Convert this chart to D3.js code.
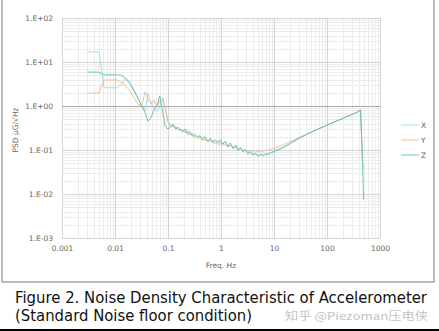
<!DOCTYPE html>
<html>
<head>
<meta charset="utf-8">
<script src="https://cdn.jsdelivr.net/npm/d3@7"></script>
<style>
  html, body { margin: 0; padding: 0; background: #fff; }
  svg { display: block; }
</style>
</head>
<body>
<svg id="chart" width="439" height="331"></svg>
<script>
// Frequency bins (Hz), shared by the three axes
const freqs = [
  0.003, 0.005, 0.0062, 0.008, 0.011, 0.013, 0.0155, 0.019, 0.023, 0.027,
  0.032, 0.037, 0.042, 0.048, 0.054, 0.062, 0.07, 0.08, 0.088, 0.1,
  0.112, 0.125, 0.14, 0.155, 0.17, 0.19, 0.21, 0.235, 0.26, 0.29,
  0.32, 0.36, 0.4, 0.45, 0.5, 0.56, 0.63, 0.7, 0.78, 0.87,
  0.97, 1.08, 1.2, 1.35, 1.5, 1.7, 1.9, 2.1, 2.35, 2.6, 2.9,
  3.2, 3.6, 4.0, 4.5, 5.0, 5.6, 6.3, 7.0, 7.8, 8.7, 9.7,
  10.8, 12, 13.5, 15, 17, 19, 21, 24, 27, 30,
  34, 38, 43, 48, 54, 60, 68, 76, 85, 95,
  107, 120, 135, 150, 170, 190, 215, 240, 270, 300, 340, 380, 430, 470, 490
];

// Noise density, µG/√Hz
const psdX = [
  17, 17, 2.6, 2.6, 2.6, 3.0, 4.2, 3.6, 2.3, 1.5,
  1.05, 0.8, 1.9, 1.2, 0.85, 0.75, 0.95, 1.4, 0.9, 0.45,
  0.33, 0.37, 0.31, 0.29, 0.3, 0.26, 0.25, 0.28, 0.22, 0.24,
  0.2, 0.19, 0.21, 0.17, 0.18, 0.16, 0.17, 0.16, 0.14, 0.16,
  0.145, 0.14, 0.15, 0.125, 0.13, 0.118, 0.12, 0.104, 0.112, 0.098, 0.1,
  0.088, 0.094, 0.082, 0.084, 0.077, 0.082, 0.079, 0.083, 0.084, 0.088, 0.094,
  0.1, 0.103, 0.11, 0.118, 0.128, 0.137, 0.148, 0.16, 0.175, 0.188,
  0.203, 0.215, 0.232, 0.247, 0.266, 0.281, 0.302, 0.317, 0.337, 0.356,
  0.383, 0.405, 0.43, 0.455, 0.485, 0.51, 0.545, 0.58, 0.615, 0.65, 0.69, 0.74, 0.82, 0.045, 0.04
];
const psdY = [
  1.97, 1.97, 3.9, 3.9, 3.9, 3.5, 3.0, 2.2, 1.5, 1.1,
  1.0, 2.1, 1.4, 1.1, 1.35, 0.95, 1.3, 1.5, 0.9, 0.45,
  0.38, 0.33, 0.34, 0.28, 0.29, 0.26, 0.27, 0.22, 0.23, 0.21,
  0.2, 0.185, 0.19, 0.165, 0.175, 0.155, 0.16, 0.145, 0.15, 0.135,
  0.138, 0.128, 0.132, 0.118, 0.124, 0.11, 0.114, 0.104, 0.108, 0.098, 0.102,
  0.095, 0.098, 0.093, 0.096, 0.092, 0.095, 0.094, 0.098, 0.1, 0.104, 0.108,
  0.112, 0.118, 0.125, 0.132, 0.141, 0.15, 0.159, 0.169, 0.181, 0.193,
  0.207, 0.219, 0.235, 0.249, 0.267, 0.283, 0.301, 0.319, 0.337, 0.357,
  0.38, 0.4, 0.425, 0.45, 0.48, 0.505, 0.54, 0.575, 0.61, 0.645, 0.685, 0.735, 0.8, 0.05, 0.045
];
const psdZ = [
  5.9, 5.9, 5.1, 5.1, 5.1, 5.0, 4.4, 3.2, 2.2, 1.5,
  1.0, 0.7, 0.45, 0.55, 0.8, 1.0, 1.7, 0.7, 0.35, 0.3,
  0.33, 0.39, 0.3, 0.33, 0.29, 0.27, 0.3, 0.24, 0.26, 0.21,
  0.23, 0.2, 0.21, 0.18, 0.2, 0.16, 0.185, 0.15, 0.17, 0.148,
  0.168, 0.135, 0.158, 0.12, 0.145, 0.108, 0.13, 0.098, 0.112, 0.09, 0.1,
  0.082, 0.09, 0.076, 0.083, 0.072, 0.079, 0.073, 0.081, 0.079, 0.086, 0.09,
  0.096, 0.1, 0.107, 0.115, 0.124, 0.134, 0.145, 0.156, 0.171, 0.185,
  0.2, 0.213, 0.231, 0.245, 0.265, 0.28, 0.3, 0.316, 0.336, 0.354,
  0.382, 0.402, 0.428, 0.452, 0.482, 0.508, 0.542, 0.578, 0.612, 0.648, 0.688, 0.738, 0.81, 0.05, 0.0075
];

const seriesNames = ["X", "Y", "Z"];
const seriesColors = ["#9fd9ec", "#f4b88c", "#5cc2a2"];

const xTicks = [0.001, 0.01, 0.1, 1, 10, 100, 1000];
const xTickLabels = ["0.001", "0.01", "0.1", "1", "10", "100", "1000"];
const yTicks = [0.001, 0.01, 0.1, 1, 10, 100];
const yTickLabels = ["1.E-03", "1.E-02", "1.E-01", "1.E+00", "1.E+01", "1.E+02"];

const svg = d3.select("#chart");

// chart frame
svg.append("rect")
  .attr("x", 2).attr("y", -5).attr("width", 432).attr("height", 287)
  .attr("fill", "#fff").attr("stroke", "#a6a6a6").attr("stroke-width", 1.5);

const x = d3.scaleLog().domain([0.001, 1000]).range([62, 380]);
const y = d3.scaleLog().domain([0.001, 100]).range([238, 18]);

// minor and major grid
const minorX = [], minorY = [];
for (let e = -3; e < 3; e++) for (let k = 2; k <= 9; k++) minorX.push(k * Math.pow(10, e));
for (let e = -3; e < 2; e++) for (let k = 2; k <= 9; k++) minorY.push(k * Math.pow(10, e));

const grid = svg.append("g").attr("shape-rendering", "crispEdges");
grid.selectAll(".vminor").data(minorX).join("line")
  .attr("x1", d => Math.round(x(d)) + 0.5).attr("x2", d => Math.round(x(d)) + 0.5)
  .attr("y1", y(100)).attr("y2", y(0.001))
  .attr("stroke", "#ececec");
grid.selectAll(".hminor").data(minorY).join("line")
  .attr("y1", d => Math.round(y(d)) + 0.5).attr("y2", d => Math.round(y(d)) + 0.5)
  .attr("x1", x(0.001)).attr("x2", x(1000))
  .attr("stroke", "#ececec");
grid.selectAll(".vmajor").data(xTicks).join("line")
  .attr("x1", d => Math.round(x(d)) + 0.5).attr("x2", d => Math.round(x(d)) + 0.5)
  .attr("y1", y(100)).attr("y2", y(0.001))
  .attr("stroke", "#d4d4d4");
grid.selectAll(".hmajor").data(yTicks).join("line")
  .attr("y1", d => Math.round(y(d)) + 0.5).attr("y2", d => Math.round(y(d)) + 0.5)
  .attr("x1", x(0.001)).attr("x2", x(1000))
  .attr("stroke", d => d === 1 ? "#a8a8a8" : "#d4d4d4");

// axes labels
const tickFont = "DejaVu Sans, Verdana, sans-serif";
const yAxis = svg.append("g").attr("transform", `translate(${x(0.001)},0)`)
  .call(d3.axisLeft(y).tickValues(yTicks).tickSize(0).tickPadding(9)
    .tickFormat((d, i) => yTickLabels[i]));
const xAxis = svg.append("g").attr("transform", `translate(0,${y(0.001)})`)
  .call(d3.axisBottom(x).tickValues(xTicks).tickSize(0).tickPadding(8)
    .tickFormat((d, i) => xTickLabels[i]));
[xAxis, yAxis].forEach(a => {
  a.select(".domain").remove();
  a.selectAll("text").attr("fill", "#666").attr("font-size", 7.5).attr("font-family", tickFont);
});

svg.append("text")
  .attr("x", 221).attr("y", 268).attr("text-anchor", "middle")
  .attr("font-family", tickFont).attr("font-size", 7.5).attr("fill", "#666")
  .text("Freq. Hz");
svg.append("text")
  .attr("transform", "translate(18,130) rotate(-90)").attr("text-anchor", "middle")
  .attr("font-family", tickFont).attr("font-size", 7.5).attr("fill", "#666")
  .text("PSD μG/√Hz");

// series lines
const allSeries = [psdX, psdY, psdZ];
const line = d3.line().x(d => x(d[0])).y(d => y(d[1]));
const plot = svg.append("g");
allSeries.forEach((vals, i) => {
  plot.append("path")
    .datum(freqs.map((f, j) => [f, vals[j]]))
    .attr("fill", "none")
    .attr("stroke", seriesColors[i])
    .attr("stroke-width", 0.9)
    .attr("stroke-linejoin", "round")
    .attr("d", line);
});

// legend
const legend = svg.append("g");
seriesNames.forEach((name, i) => {
  const ly = 125 + i * 15;
  legend.append("line").attr("x1", 401).attr("x2", 419).attr("y1", ly).attr("y2", ly)
    .attr("stroke", seriesColors[i]).attr("stroke-width", 0.9);
  legend.append("text").attr("x", 421).attr("y", ly).attr("dy", "0.35em")
    .attr("font-family", tickFont).attr("font-size", 7.5).attr("fill", "#666")
    .text(name);
});

// caption
const capFont = "DejaVu Sans, Verdana, sans-serif";
svg.append("text").attr("x", 15).attr("y", 303)
  .attr("font-family", capFont).attr("font-size", 15).attr("fill", "#111")
  .attr("textLength", 412).attr("lengthAdjust", "spacingAndGlyphs")
  .text("Figure 2. Noise Density Characteristic of Accelerometer");
svg.append("text").attr("x", 15).attr("y", 321)
  .attr("font-family", capFont).attr("font-size", 15).attr("fill", "#111")
  .attr("textLength", 237).attr("lengthAdjust", "spacingAndGlyphs")
  .text("(Standard Noise floor condition)");
svg.append("text").attr("x", 285).attr("y", 319.5)
  .attr("font-family", "Noto Sans CJK SC, sans-serif").attr("font-size", 11).attr("fill", "#c4c4c4")
  .attr("textLength", 143).attr("lengthAdjust", "spacingAndGlyphs")
  .text("知乎 @Piezoman压电侠");

svg.append("rect").attr("x", 0).attr("y", 329).attr("width", 439).attr("height", 2).attr("fill", "#000");
</script>
</body>
</html>
